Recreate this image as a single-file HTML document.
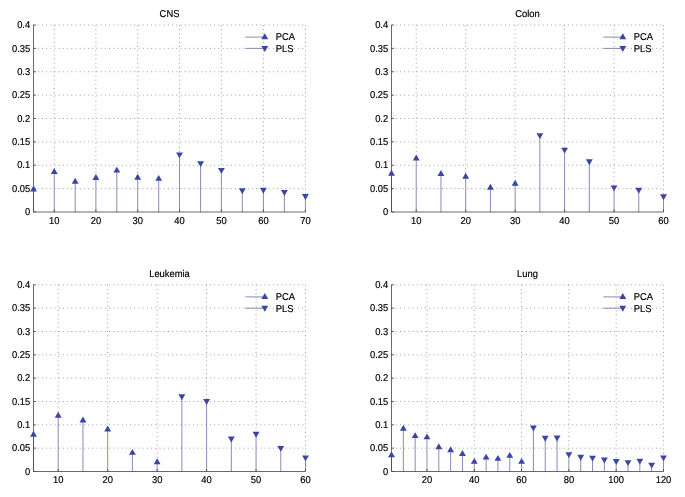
<!DOCTYPE html>
<html><head><meta charset="utf-8"><title>PCA vs PLS</title>
<style>
html,body{margin:0;padding:0;background:#fff;}
body{width:685px;height:497px;overflow:hidden;}
svg{display:block;}
text{font-family:"Liberation Sans", Arial, Helvetica, sans-serif;font-size:9.4px;text-rendering:geometricPrecision;stroke:#000;stroke-width:0.18px;}
</style></head>
<body>
<svg width="685" height="497" viewBox="0 0 685 497">
<rect width="685" height="497" fill="#fff"/>
<g><path d="M33.5 188.62H305.5M33.5 165.25H305.5M33.5 141.88H305.5M33.5 118.5H305.5M33.5 95.12H305.5M33.5 71.75H305.5M33.5 48.38H305.5M33.5 25H305.5M54.25 25V171M95.9 25V177M137.7 25V176.7M179.5 25V155.4M221.4 25V170.9M263.4 25V190.8M305.4 25V197" stroke="#959595" stroke-width="0.9" stroke-dasharray="1 3.2" fill="none"/><path d="M33.5 212V188.5M54.25 212V171M75.2 212V180.8M95.9 212V177M116.8 212V169.6M137.7 212V176.7M158.7 212V177.9M179.5 212V155.4M200.6 212V164.1M221.4 212V170.9M242.3 212V191.2M263.4 212V190.8M284.4 212V193M305.4 212V197" stroke="#8d8ab6" stroke-width="1.0" fill="none"/><path d="M33.5 25V212M33.5 212H305.5M33.5 212h2.5M33.5 188.62h2.5M33.5 165.25h2.5M33.5 141.88h2.5M33.5 118.5h2.5M33.5 95.12h2.5M33.5 71.75h2.5M33.5 48.38h2.5M33.5 25h2.5M54.25 212v-2.5M95.9 212v-2.5M137.7 212v-2.5M179.5 212v-2.5M221.4 212v-2.5M263.4 212v-2.5M305.4 212v-2.5" stroke="#444" stroke-width="0.8" fill="none"/><g fill="#3a45a5"><polygon points="33.5,185.55 36.95,191.45 30.05,191.45"/><polygon points="54.25,168.05 57.7,173.95 50.8,173.95"/><polygon points="75.2,177.85 78.65,183.75 71.75,183.75"/><polygon points="95.9,174.05 99.35,179.95 92.45,179.95"/><polygon points="116.8,166.65 120.25,172.55 113.35,172.55"/><polygon points="137.7,173.75 141.15,179.65 134.25,179.65"/><polygon points="158.7,174.95 162.15,180.85 155.25,180.85"/><polygon points="176.05,152.45 182.95,152.45 179.5,158.35"/><polygon points="197.15,161.15 204.05,161.15 200.6,167.05"/><polygon points="217.95,167.95 224.85,167.95 221.4,173.85"/><polygon points="238.85,188.25 245.75,188.25 242.3,194.15"/><polygon points="259.95,187.85 266.85,187.85 263.4,193.75"/><polygon points="280.95,190.05 287.85,190.05 284.4,195.95"/><polygon points="301.95,194.05 308.85,194.05 305.4,199.95"/></g><path d="M245.3 37.1H264.8M245.3 48.4H264.8" stroke="#8d8ab6" stroke-width="1.0"/><g fill="#3a45a5"><polygon points="264.8,33.25 268.25,39.15 261.35,39.15"/><polygon points="261.35,46.05 268.25,46.05 264.8,51.95"/></g><g fill="#000"><text transform="translate(169.5 17.4) scale(1 1.06)" text-anchor="middle">CNS</text><text transform="translate(30.2 215.2) scale(1 1.06)" text-anchor="end">0</text><text transform="translate(30.2 191.82) scale(1 1.06)" text-anchor="end">0.05</text><text transform="translate(30.2 168.45) scale(1 1.06)" text-anchor="end">0.1</text><text transform="translate(30.2 145.07) scale(1 1.06)" text-anchor="end">0.15</text><text transform="translate(30.2 121.7) scale(1 1.06)" text-anchor="end">0.2</text><text transform="translate(30.2 98.33) scale(1 1.06)" text-anchor="end">0.25</text><text transform="translate(30.2 74.95) scale(1 1.06)" text-anchor="end">0.3</text><text transform="translate(30.2 51.58) scale(1 1.06)" text-anchor="end">0.35</text><text transform="translate(30.2 28.2) scale(1 1.06)" text-anchor="end">0.4</text><text transform="translate(54.25 223.6) scale(1 1.06)" text-anchor="middle">10</text><text transform="translate(95.9 223.6) scale(1 1.06)" text-anchor="middle">20</text><text transform="translate(137.7 223.6) scale(1 1.06)" text-anchor="middle">30</text><text transform="translate(179.5 223.6) scale(1 1.06)" text-anchor="middle">40</text><text transform="translate(221.4 223.6) scale(1 1.06)" text-anchor="middle">50</text><text transform="translate(263.4 223.6) scale(1 1.06)" text-anchor="middle">60</text><text transform="translate(305.4 223.6) scale(1 1.06)" text-anchor="middle">70</text><text transform="translate(275.8 40.3) scale(1 1.06)">PCA</text><text transform="translate(275.8 51.7) scale(1 1.06)">PLS</text></g></g>
<g><path d="M391.5 188.62H663.5M391.5 165.25H663.5M391.5 141.88H663.5M391.5 118.5H663.5M391.5 95.12H663.5M391.5 71.75H663.5M391.5 48.38H663.5M391.5 25H663.5M416.23 25V157.5M465.68 25V175.8M515.14 25V182.7M564.59 25V150.6M614.05 25V188.4M663.5 25V197.3" stroke="#959595" stroke-width="0.9" stroke-dasharray="1 3.2" fill="none"/><path d="M391.5 212V172.8M416.23 212V157.5M440.95 212V173M465.68 212V175.8M490.41 212V186.8M515.14 212V182.7M539.86 212V136.1M564.59 212V150.6M589.32 212V162.3M614.05 212V188.4M638.77 212V190.8M663.5 212V197.3" stroke="#8d8ab6" stroke-width="1.0" fill="none"/><path d="M391.5 25V212M391.5 212H663.5M391.5 212h2.5M391.5 188.62h2.5M391.5 165.25h2.5M391.5 141.88h2.5M391.5 118.5h2.5M391.5 95.12h2.5M391.5 71.75h2.5M391.5 48.38h2.5M391.5 25h2.5M416.23 212v-2.5M465.68 212v-2.5M515.14 212v-2.5M564.59 212v-2.5M614.05 212v-2.5M663.5 212v-2.5" stroke="#444" stroke-width="0.8" fill="none"/><g fill="#3a45a5"><polygon points="391.5,169.85 394.95,175.75 388.05,175.75"/><polygon points="416.23,154.55 419.68,160.45 412.78,160.45"/><polygon points="440.95,170.05 444.4,175.95 437.5,175.95"/><polygon points="465.68,172.85 469.13,178.75 462.23,178.75"/><polygon points="490.41,183.85 493.86,189.75 486.96,189.75"/><polygon points="515.14,179.75 518.59,185.65 511.69,185.65"/><polygon points="536.41,133.15 543.31,133.15 539.86,139.05"/><polygon points="561.14,147.65 568.04,147.65 564.59,153.55"/><polygon points="585.87,159.35 592.77,159.35 589.32,165.25"/><polygon points="610.6,185.45 617.5,185.45 614.05,191.35"/><polygon points="635.32,187.85 642.22,187.85 638.77,193.75"/><polygon points="660.05,194.35 666.95,194.35 663.5,200.25"/></g><path d="M603.3 37.1H622.8M603.3 48.4H622.8" stroke="#8d8ab6" stroke-width="1.0"/><g fill="#3a45a5"><polygon points="622.8,33.25 626.25,39.15 619.35,39.15"/><polygon points="619.35,46.05 626.25,46.05 622.8,51.95"/></g><g fill="#000"><text transform="translate(527.5 17.4) scale(1 1.06)" text-anchor="middle">Colon</text><text transform="translate(388.2 215.2) scale(1 1.06)" text-anchor="end">0</text><text transform="translate(388.2 191.82) scale(1 1.06)" text-anchor="end">0.05</text><text transform="translate(388.2 168.45) scale(1 1.06)" text-anchor="end">0.1</text><text transform="translate(388.2 145.07) scale(1 1.06)" text-anchor="end">0.15</text><text transform="translate(388.2 121.7) scale(1 1.06)" text-anchor="end">0.2</text><text transform="translate(388.2 98.33) scale(1 1.06)" text-anchor="end">0.25</text><text transform="translate(388.2 74.95) scale(1 1.06)" text-anchor="end">0.3</text><text transform="translate(388.2 51.58) scale(1 1.06)" text-anchor="end">0.35</text><text transform="translate(388.2 28.2) scale(1 1.06)" text-anchor="end">0.4</text><text transform="translate(416.23 223.6) scale(1 1.06)" text-anchor="middle">10</text><text transform="translate(465.68 223.6) scale(1 1.06)" text-anchor="middle">20</text><text transform="translate(515.14 223.6) scale(1 1.06)" text-anchor="middle">30</text><text transform="translate(564.59 223.6) scale(1 1.06)" text-anchor="middle">40</text><text transform="translate(614.05 223.6) scale(1 1.06)" text-anchor="middle">50</text><text transform="translate(663.5 223.6) scale(1 1.06)" text-anchor="middle">60</text><text transform="translate(633.8 40.3) scale(1 1.06)">PCA</text><text transform="translate(633.8 51.7) scale(1 1.06)">PLS</text></g></g>
<g><path d="M33.5 448.16H305.5M33.5 424.82H305.5M33.5 401.49H305.5M33.5 378.15H305.5M33.5 354.81H305.5M33.5 331.48H305.5M33.5 308.14H305.5M33.5 284.8H305.5M58.23 284.8V414.7M107.68 284.8V428.5M157.14 284.8V461.3M206.59 284.8V402M256.05 284.8V434.7M305.5 284.8V458.4" stroke="#959595" stroke-width="0.9" stroke-dasharray="1 3.2" fill="none"/><path d="M33.5 471.5V433.8M58.23 471.5V414.7M82.95 471.5V419.5M107.68 471.5V428.5M132.41 471.5V451.9M157.14 471.5V461.3M181.86 471.5V397.2M206.59 471.5V402M231.32 471.5V439.5M256.05 471.5V434.7M280.77 471.5V448.9M305.5 471.5V458.4" stroke="#8d8ab6" stroke-width="1.0" fill="none"/><path d="M33.5 284.8V471.5M33.5 471.5H305.5M33.5 471.5h2.5M33.5 448.16h2.5M33.5 424.82h2.5M33.5 401.49h2.5M33.5 378.15h2.5M33.5 354.81h2.5M33.5 331.48h2.5M33.5 308.14h2.5M33.5 284.8h2.5M58.23 471.5v-2.5M107.68 471.5v-2.5M157.14 471.5v-2.5M206.59 471.5v-2.5M256.05 471.5v-2.5M305.5 471.5v-2.5" stroke="#444" stroke-width="0.8" fill="none"/><g fill="#3a45a5"><polygon points="33.5,430.85 36.95,436.75 30.05,436.75"/><polygon points="58.23,411.75 61.68,417.65 54.78,417.65"/><polygon points="82.95,416.55 86.4,422.45 79.5,422.45"/><polygon points="107.68,425.55 111.13,431.45 104.23,431.45"/><polygon points="132.41,448.95 135.86,454.85 128.96,454.85"/><polygon points="157.14,458.35 160.59,464.25 153.69,464.25"/><polygon points="178.41,394.25 185.31,394.25 181.86,400.15"/><polygon points="203.14,399.05 210.04,399.05 206.59,404.95"/><polygon points="227.87,436.55 234.77,436.55 231.32,442.45"/><polygon points="252.6,431.75 259.5,431.75 256.05,437.65"/><polygon points="277.32,445.95 284.22,445.95 280.77,451.85"/><polygon points="302.05,455.45 308.95,455.45 305.5,461.35"/></g><path d="M245.3 296.9H264.8M245.3 308.2H264.8" stroke="#8d8ab6" stroke-width="1.0"/><g fill="#3a45a5"><polygon points="264.8,293.05 268.25,298.95 261.35,298.95"/><polygon points="261.35,305.85 268.25,305.85 264.8,311.75"/></g><g fill="#000"><text transform="translate(169.5 277.2) scale(1 1.06)" text-anchor="middle">Leukemia</text><text transform="translate(30.2 474.7) scale(1 1.06)" text-anchor="end">0</text><text transform="translate(30.2 451.36) scale(1 1.06)" text-anchor="end">0.05</text><text transform="translate(30.2 428.02) scale(1 1.06)" text-anchor="end">0.1</text><text transform="translate(30.2 404.69) scale(1 1.06)" text-anchor="end">0.15</text><text transform="translate(30.2 381.35) scale(1 1.06)" text-anchor="end">0.2</text><text transform="translate(30.2 358.01) scale(1 1.06)" text-anchor="end">0.25</text><text transform="translate(30.2 334.68) scale(1 1.06)" text-anchor="end">0.3</text><text transform="translate(30.2 311.34) scale(1 1.06)" text-anchor="end">0.35</text><text transform="translate(30.2 288) scale(1 1.06)" text-anchor="end">0.4</text><text transform="translate(58.23 483.1) scale(1 1.06)" text-anchor="middle">10</text><text transform="translate(107.68 483.1) scale(1 1.06)" text-anchor="middle">20</text><text transform="translate(157.14 483.1) scale(1 1.06)" text-anchor="middle">30</text><text transform="translate(206.59 483.1) scale(1 1.06)" text-anchor="middle">40</text><text transform="translate(256.05 483.1) scale(1 1.06)" text-anchor="middle">50</text><text transform="translate(305.5 483.1) scale(1 1.06)" text-anchor="middle">60</text><text transform="translate(275.8 300.1) scale(1 1.06)">PCA</text><text transform="translate(275.8 311.5) scale(1 1.06)">PLS</text></g></g>
<g><path d="M391.5 448.16H663.5M391.5 424.82H663.5M391.5 401.49H663.5M391.5 378.15H663.5M391.5 354.81H663.5M391.5 331.48H663.5M391.5 308.14H663.5M391.5 284.8H663.5M426.98 284.8V436.4M474.28 284.8V460.9M521.59 284.8V460.9M568.89 284.8V455.1M616.2 284.8V462M663.5 284.8V458.4" stroke="#959595" stroke-width="0.9" stroke-dasharray="1 3.2" fill="none"/><path d="M391.5 471.5V454.2M403.33 471.5V427.8M415.15 471.5V435.1M426.98 471.5V436.4M438.8 471.5V446.2M450.63 471.5V449.2M462.46 471.5V453M474.28 471.5V460.9M486.11 471.5V456.6M497.93 471.5V457.9M509.76 471.5V454.9M521.59 471.5V460.9M533.41 471.5V428.5M545.24 471.5V438.7M557.07 471.5V438.5M568.89 471.5V455.1M580.72 471.5V457.7M592.54 471.5V458.6M604.37 471.5V460.5M616.2 471.5V462M628.02 471.5V463.1M639.85 471.5V461.6M651.67 471.5V465.6M663.5 471.5V458.4" stroke="#8d8ab6" stroke-width="1.0" fill="none"/><path d="M391.5 284.8V471.5M391.5 471.5H663.5M391.5 471.5h2.5M391.5 448.16h2.5M391.5 424.82h2.5M391.5 401.49h2.5M391.5 378.15h2.5M391.5 354.81h2.5M391.5 331.48h2.5M391.5 308.14h2.5M391.5 284.8h2.5M426.98 471.5v-2.5M474.28 471.5v-2.5M521.59 471.5v-2.5M568.89 471.5v-2.5M616.2 471.5v-2.5M663.5 471.5v-2.5" stroke="#444" stroke-width="0.8" fill="none"/><g fill="#3a45a5"><polygon points="391.5,451.25 394.95,457.15 388.05,457.15"/><polygon points="403.33,424.85 406.78,430.75 399.88,430.75"/><polygon points="415.15,432.15 418.6,438.05 411.7,438.05"/><polygon points="426.98,433.45 430.43,439.35 423.53,439.35"/><polygon points="438.8,443.25 442.25,449.15 435.35,449.15"/><polygon points="450.63,446.25 454.08,452.15 447.18,452.15"/><polygon points="462.46,450.05 465.91,455.95 459.01,455.95"/><polygon points="474.28,457.95 477.73,463.85 470.83,463.85"/><polygon points="486.11,453.65 489.56,459.55 482.66,459.55"/><polygon points="497.93,454.95 501.38,460.85 494.48,460.85"/><polygon points="509.76,451.95 513.21,457.85 506.31,457.85"/><polygon points="521.59,457.95 525.04,463.85 518.14,463.85"/><polygon points="529.96,425.55 536.86,425.55 533.41,431.45"/><polygon points="541.79,435.75 548.69,435.75 545.24,441.65"/><polygon points="553.62,435.55 560.52,435.55 557.07,441.45"/><polygon points="565.44,452.15 572.34,452.15 568.89,458.05"/><polygon points="577.27,454.75 584.17,454.75 580.72,460.65"/><polygon points="589.09,455.65 595.99,455.65 592.54,461.55"/><polygon points="600.92,457.55 607.82,457.55 604.37,463.45"/><polygon points="612.75,459.05 619.65,459.05 616.2,464.95"/><polygon points="624.57,460.15 631.47,460.15 628.02,466.05"/><polygon points="636.4,458.65 643.3,458.65 639.85,464.55"/><polygon points="648.22,462.65 655.12,462.65 651.67,468.55"/><polygon points="660.05,455.45 666.95,455.45 663.5,461.35"/></g><path d="M603.3 296.9H622.8M603.3 308.2H622.8" stroke="#8d8ab6" stroke-width="1.0"/><g fill="#3a45a5"><polygon points="622.8,293.05 626.25,298.95 619.35,298.95"/><polygon points="619.35,305.85 626.25,305.85 622.8,311.75"/></g><g fill="#000"><text transform="translate(527.5 277.2) scale(1 1.06)" text-anchor="middle">Lung</text><text transform="translate(388.2 474.7) scale(1 1.06)" text-anchor="end">0</text><text transform="translate(388.2 451.36) scale(1 1.06)" text-anchor="end">0.05</text><text transform="translate(388.2 428.02) scale(1 1.06)" text-anchor="end">0.1</text><text transform="translate(388.2 404.69) scale(1 1.06)" text-anchor="end">0.15</text><text transform="translate(388.2 381.35) scale(1 1.06)" text-anchor="end">0.2</text><text transform="translate(388.2 358.01) scale(1 1.06)" text-anchor="end">0.25</text><text transform="translate(388.2 334.68) scale(1 1.06)" text-anchor="end">0.3</text><text transform="translate(388.2 311.34) scale(1 1.06)" text-anchor="end">0.35</text><text transform="translate(388.2 288) scale(1 1.06)" text-anchor="end">0.4</text><text transform="translate(426.98 483.1) scale(1 1.06)" text-anchor="middle">20</text><text transform="translate(474.28 483.1) scale(1 1.06)" text-anchor="middle">40</text><text transform="translate(521.59 483.1) scale(1 1.06)" text-anchor="middle">60</text><text transform="translate(568.89 483.1) scale(1 1.06)" text-anchor="middle">80</text><text transform="translate(616.2 483.1) scale(1 1.06)" text-anchor="middle">100</text><text transform="translate(663.5 483.1) scale(1 1.06)" text-anchor="middle">120</text><text transform="translate(633.8 300.1) scale(1 1.06)">PCA</text><text transform="translate(633.8 311.5) scale(1 1.06)">PLS</text></g></g>
</svg>
</body></html>
